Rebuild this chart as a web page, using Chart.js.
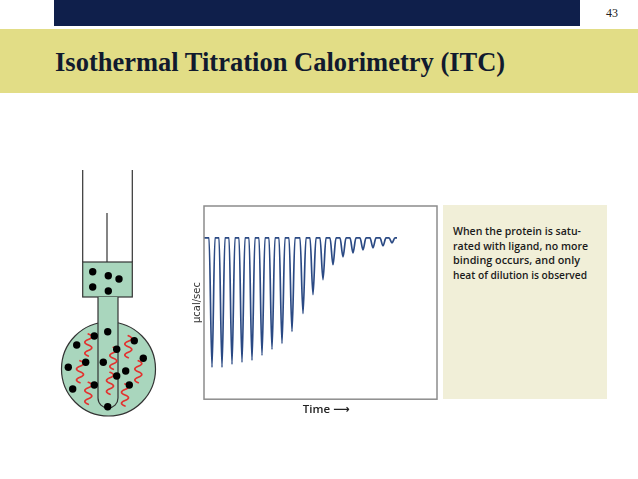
<!DOCTYPE html>
<html>
<head>
<meta charset="utf-8">
<script src="https://cdn.jsdelivr.net/npm/chart.js@4"></script>
<style>
  html, body { margin: 0; padding: 0; background: #fff; }
  #slide { position: relative; width: 638px; height: 479px; overflow: hidden; }
  #art { position: absolute; left: 0; top: 0; }
  #chartBox { position: absolute; left: 186px; top: 200px; width: 256px; height: 221px; }
</style>
</head>
<body>
<div id="slide">
  <svg id="art" width="638" height="479" xmlns="http://www.w3.org/2000/svg">
    <!-- header -->
    <rect x="54" y="0" width="526" height="26" fill="#0f1f4b"/>
    <text x="606" y="17" font-family="Liberation Serif" font-size="12" fill="#222">43</text>
    <rect x="0" y="29" width="638" height="64" fill="#e2dd86"/>
    <text x="55" y="71" font-family="Liberation Serif" font-weight="bold" font-size="26.5" fill="#111a2e">Isothermal Titration Calorimetry (ITC)</text>

    <!-- calorimeter cell drawing -->
    <g stroke="#333" stroke-width="1.2" fill="none">
      <line x1="82.7" y1="170" x2="82.7" y2="262"/>
      <line x1="132.3" y1="170" x2="132.3" y2="262"/>
      <line x1="107" y1="213" x2="107" y2="262"/>
    </g>
    <rect x="82.7" y="262" width="49.6" height="35" fill="#a9d6bd" stroke="#333" stroke-width="1.2"/>
    <circle cx="108.5" cy="369" r="47" fill="#a9d6bd" stroke="#333" stroke-width="1.2"/>
    <path d="M98 297 L98 398 A10 10 0 0 0 118 398 L118 297" fill="#a9d6bd" stroke="#333" stroke-width="1.2"/>
    <g id="squiggles" fill="none" stroke="#e3322f" stroke-width="1.7" stroke-linecap="round"></g>
    <g id="dots" fill="#000"></g>

    <!-- caption box -->
    <rect x="443" y="205" width="164" height="194" fill="#f1efd8"/>
    <g font-family="'Open Sans', 'Noto Sans', sans-serif" font-weight="600" font-size="11.5" fill="#1a1a1a">
      <text x="453" y="235" textLength="128" lengthAdjust="spacingAndGlyphs">When the protein is satu-</text>
      <text x="453" y="249.5" textLength="135" lengthAdjust="spacingAndGlyphs">rated with ligand, no more</text>
      <text x="453" y="264" textLength="127" lengthAdjust="spacingAndGlyphs">binding occurs, and only</text>
      <text x="453" y="278.5" textLength="134" lengthAdjust="spacingAndGlyphs">heat of dilution is observed</text>
    </g>
  </svg>
  <div id="chartBox"><canvas id="itc"></canvas></div>
</div>
<script>
// thermogram: injection times (arbitrary time units) and peak heats (µcal/sec)
const injectionTimes = [0.8, 1.8, 2.8, 3.8, 4.8, 5.8, 6.8, 7.8, 8.8, 9.9,
                        10.9, 11.9, 12.9, 13.9, 14.9, 15.9, 16.9, 17.9, 18.8];
const peakHeats = [-1.30, -1.30, -1.27, -1.25, -1.23, -1.18, -1.12, -1.06, -0.94, -0.76,
                   -0.57, -0.42, -0.27, -0.19, -0.15, -0.12, -0.10, -0.08, -0.05];
const baselineHeat = 0;
const runStart = 0;
const runEnd = 19.3;
const xLabel = 'Time';
const yLabel = 'µcal/sec';

// drawing parts of the cell (illustration only)
const cellDots = [[92.7,271.7],[108.3,275.7],[119,279],[92.7,287],[108.3,291],
  [107.7,331.7],[94.3,336],[76.7,345],[134.3,340.7],[116.7,349.3],[143.3,358.3],
  [85.7,362.3],[103.3,362.3],[68.3,367.3],[125.7,371],[116.7,376],[94.3,385],
  [129.3,385],[72.7,389],[107.7,406.7]];
const proteinSpots = [[88.3,345],[128.3,346.7],[113.3,358.3],[80,371.7],
  [138.3,371.7],[110,383.3],[88.3,393.3],[125,395]];

const NS = 'http://www.w3.org/2000/svg';
const dotsG = document.getElementById('dots');
cellDots.forEach(([x, y]) => {
  const c = document.createElementNS(NS, 'circle');
  c.setAttribute('cx', x); c.setAttribute('cy', y); c.setAttribute('r', 3.7);
  dotsG.appendChild(c);
});
const sqG = document.getElementById('squiggles');
proteinSpots.forEach(([x, y]) => {
  // wavy protein chain, about 7px wide and 22px tall
  let d = `M${x} ${y - 11}`;
  for (let k = 0; k < 4; k++) {
    const side = k % 2 ? -1 : 1;
    d += ` Q${x + side * 7} ${y - 11 + k * 5.5 + 2.75} ${x} ${y - 11 + (k + 1) * 5.5}`;
  }
  const p = document.createElementNS(NS, 'path');
  p.setAttribute('d', d);
  sqG.appendChild(p);
});

// build the trace: flat baseline, sharp dip at every injection, back to baseline
const trace = [{ x: runStart, y: baselineHeat }];
injectionTimes.forEach((t, i) => {
  trace.push({ x: t - 0.3, y: baselineHeat });
  trace.push({ x: t, y: peakHeats[i] });
  trace.push({ x: t + 0.3, y: baselineHeat });
});
trace.push({ x: runEnd, y: baselineHeat });

const frame = {
  id: 'frame',
  afterDraw(chart) {
    const a = chart.chartArea;
    const c = chart.ctx;
    c.save();
    c.strokeStyle = '#8c8c8c';
    c.lineWidth = 1.5;
    c.strokeRect(a.left, a.top, a.right - a.left, a.bottom - a.top);
    c.restore();
  }
};

new Chart(document.getElementById('itc'), {
  type: 'line',
  data: {
    datasets: [{
      data: trace,
      borderColor: '#2b4a84',
      borderWidth: 1.7,
      pointRadius: 0,
      fill: false,
      cubicInterpolationMode: 'monotone'
    }]
  },
  options: {
    responsive: true,
    maintainAspectRatio: false,
    animation: false,
    layout: { padding: { left: 0, top: 6, right: 5, bottom: 0 } },
    plugins: { legend: { display: false }, tooltip: { enabled: false } },
    scales: {
      x: {
        type: 'linear', min: 0, max: 23.3,
        grid: { display: false, drawTicks: false },
        border: { display: false },
        ticks: { display: false },
        title: {
          display: true, text: '\u2002\u2002' + xLabel + ' \u27F6',
          color: '#222', padding: { top: 4, bottom: 4 },
          font: { family: "'Open Sans', 'DejaVu Sans', sans-serif", size: 11.5, weight: '600' }
        }
      },
      y: {
        min: -1.62, max: 0.32,
        grid: { display: false, drawTicks: false },
        border: { display: false },
        ticks: { display: false },
        title: {
          display: true, text: yLabel,
          color: '#333', padding: { top: 5, bottom: 1 },
          font: { family: "'DejaVu Sans', sans-serif", size: 10 }
        }
      }
    }
  },
  plugins: [frame]
});
</script>
</body>
</html>
